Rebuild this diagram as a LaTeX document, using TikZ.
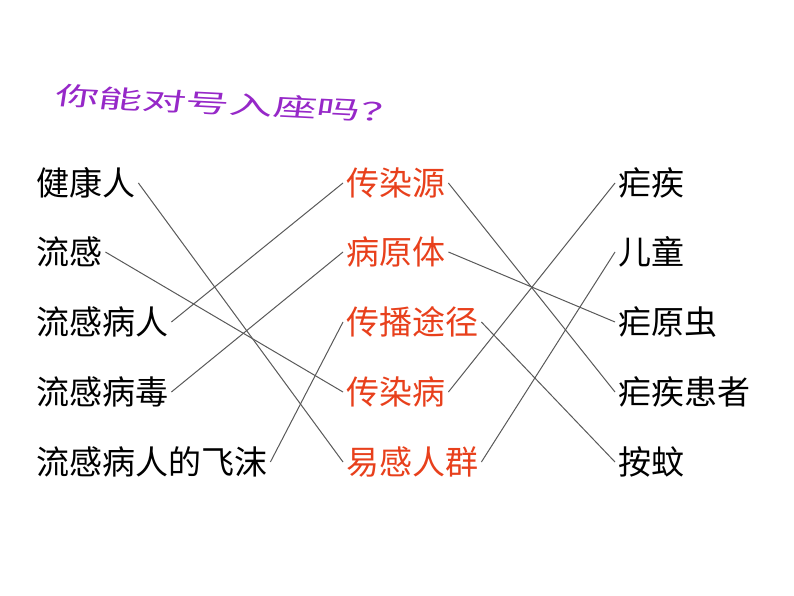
\documentclass[tikz,border=0pt]{standalone}
\usepackage{fontspec}
\newfontfamily\cjk{Noto Sans CJK SC}
\definecolor{redtxt}{RGB}{232,64,28}
\definecolor{titlec}{RGB}{150,40,200}
\tikzset{
  item/.style={font=\cjk\fontsize{33}{38}\selectfont, inner sep=3pt},
  lhs/.style={item, anchor=west},
  mid/.style={item, anchor=west, text=redtxt},
  link/.style={draw=black!65, line width=1pt}
}
\begin{document}
\begin{tikzpicture}[x=1pt,y=-1pt]
\useasboundingbox (0,0) rectangle (794,596);
\node[font=\cjk\fontsize{25}{28}\selectfont, text=titlec, xscale=1.75, rotate=-5] (title) at (230,104) {你能对号入座吗？};
%
\node[lhs] (l1) at (33,183) {健康人};
\node[lhs] (l2) at (33,252) {流感};
\node[lhs] (l3) at (33,322) {流感病人};
\node[lhs] (l4) at (33,392) {流感病毒};
\node[lhs] (l5) at (33,462) {流感病人的飞沫};
%
\node[mid] (m1) at (343,183) {传染源};
\node[mid] (m2) at (343,252) {病原体};
\node[mid] (m3) at (343,322) {传播途径};
\node[mid] (m4) at (343,392) {传染病};
\node[mid] (m5) at (343,462) {易感人群};
%
\node[lhs] (r1) at (615,183) {疟疾};
\node[lhs] (r2) at (615,252) {儿童};
\node[lhs] (r3) at (615,322) {疟原虫};
\node[lhs] (r4) at (615,392) {疟疾患者};
\node[lhs] (r5) at (615,462) {按蚊};
%
\draw[link] (l1.east) -- (m5.west);
\draw[link] (l2.east) -- (m4.west);
\draw[link] (l3.east) -- (m1.west);
\draw[link] (l4.east) -- (m2.west);
\draw[link] (l5.east) -- (m3.west);
%
\draw[link] (m1.east) -- (r4.west);
\draw[link] (m2.east) -- (r3.west);
\draw[link] (m3.east) -- (r5.west);
\draw[link] (m4.east) -- (r1.west);
\draw[link] (m5.east) -- (r2.west);
\end{tikzpicture}
\end{document}
